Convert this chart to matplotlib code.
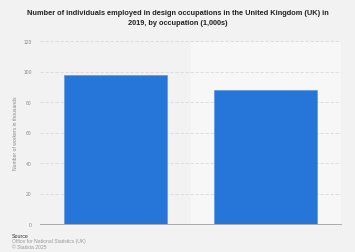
import matplotlib
matplotlib.use('agg')
from matplotlib import pyplot as plt

# data (thousands of workers)
categories = ["Design occupation A", "Design occupation B"]
workers = [97.7, 88.0]
yticks = [0, 20, 40, 60, 80, 100, 120]

plt.rcParams['font.family'] = ['Liberation Sans', 'DejaVu Sans']

bg = '#f2f2f2'
fig = plt.figure(figsize=(3.55, 2.53), dpi=100, facecolor=bg)
ax = fig.add_axes([40 / 355, 28 / 253, 301 / 355, 183 / 253])
ax.set_facecolor(bg)

x = list(range(len(categories)))
ax.axvspan(0.5, 1.5, facecolor='#f7f7f7', zorder=0)
ax.bar(x, workers, width=0.685, color='#2675d9', edgecolor='#5b98e6',
       linewidth=0.5, zorder=3)

ax.set_xlim(-0.5, 1.5)
ax.set_ylim(0, 120)
ax.set_yticks(yticks)
ax.set_yticklabels([str(t) for t in yticks], fontsize=3.6, color='#888888')
ax.set_xticks([])
ax.yaxis.grid(True, color='#dadada', linestyle=(0, (4, 2)), linewidth=0.6, zorder=1)
ax.tick_params(axis='y', length=0, pad=6)
for side in ('top', 'right', 'left'):
    ax.spines[side].set_visible(False)
ax.spines['bottom'].set_color('#aaaaaa')
ax.spines['bottom'].set_linewidth(0.7)

ax.set_ylabel("Number of workers in thousands", fontsize=3.6, color='#888888')
ax.yaxis.set_label_coords(-0.073, 0.5)

fig.text(0.5, 1 - 18.5 / 253,
         "Number of individuals employed in design occupations in the United Kingdom (UK) in\n"
         "2019, by occupation (1,000s)",
         ha='center', va='center', fontsize=5.3, fontweight='bold', color='#222222',
         linespacing=1.75)

fig.text(12 / 355, 1 - 236 / 253, "Source", fontsize=3.8, color='#333333', va='center')
fig.text(12 / 355, 1 - 242 / 253, "Office for National Statistics (UK)", fontsize=3.6,
         color='#999999', va='center')
fig.text(12 / 355, 1 - 248 / 253, "\u00a9 Statista 2025", fontsize=3.6,
         color='#999999', va='center')

plt.savefig('out.png', dpi=100, facecolor=bg)
